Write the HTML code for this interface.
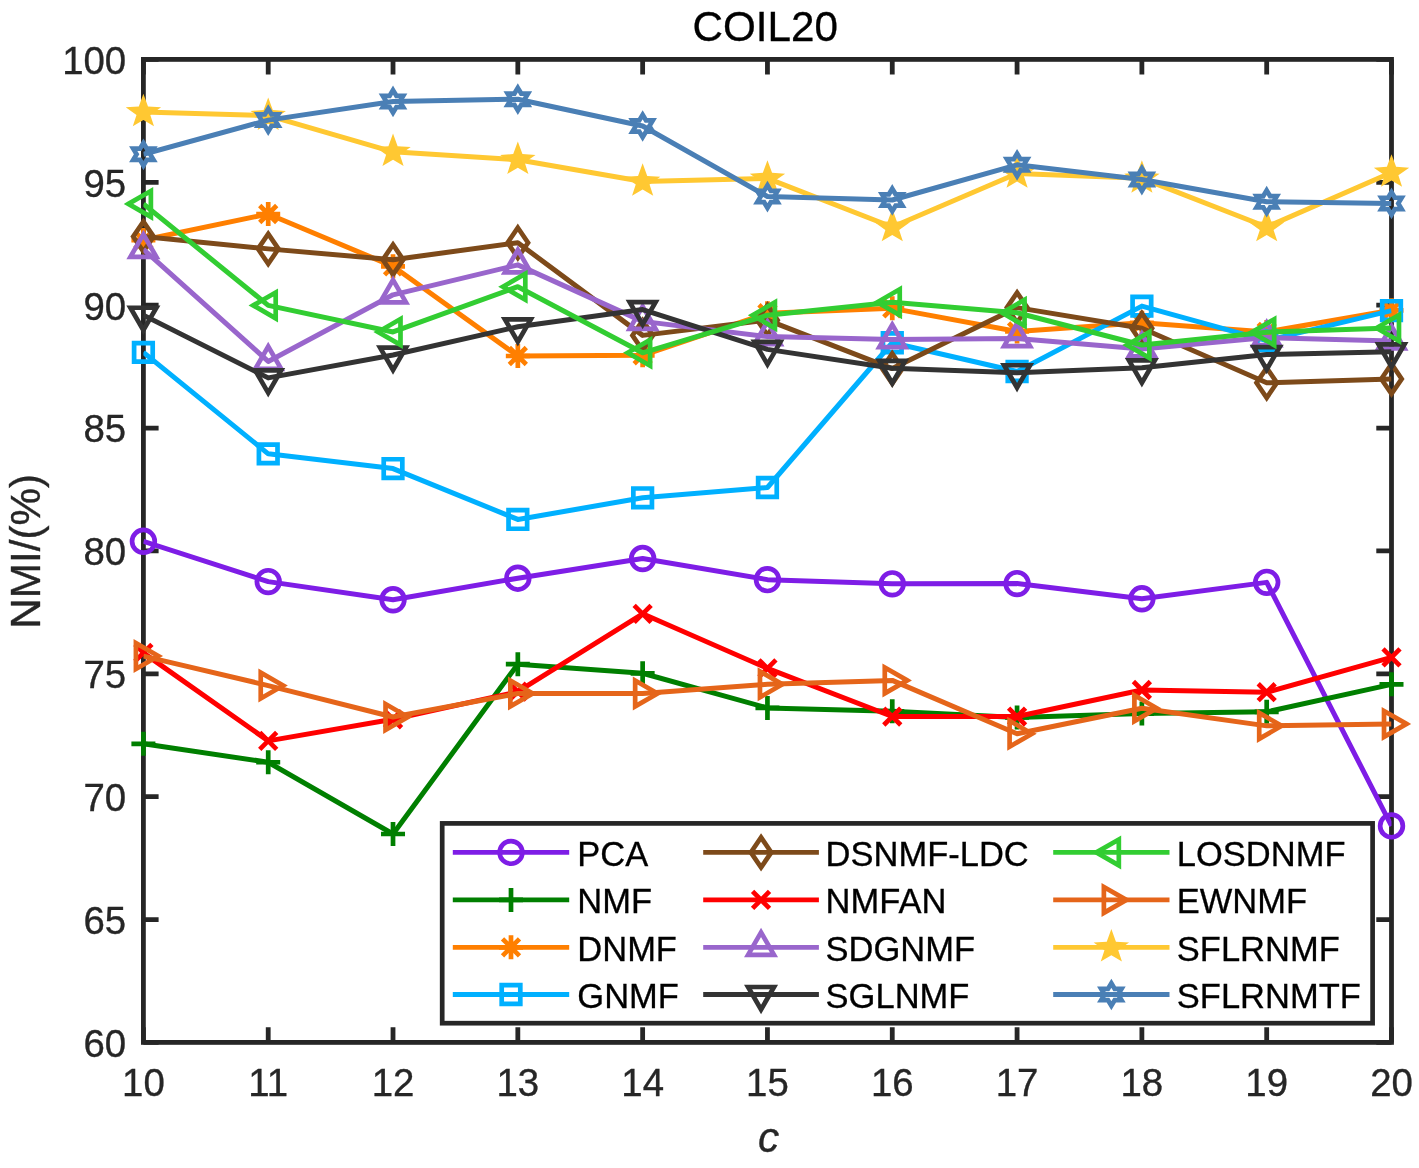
<!DOCTYPE html>
<html><head><meta charset="utf-8"><title>COIL20</title>
<style>html,body{margin:0;padding:0;background:#fff}body{width:1419px;height:1168px;overflow:hidden}</style></head>
<body>
<svg width="1419" height="1168" viewBox="0 0 1419 1168" style="display:block" font-family='"Liberation Sans", Arial, Helvetica, sans-serif'>
<rect x="0" y="0" width="1419" height="1168" fill="#fff"/>
<defs><clipPath id="ax"><rect x="143.4" y="59.4" width="1248.1" height="983"/></clipPath></defs>
<path d="M143.4 1042.4V1027.2M143.4 59.4V74.6M268.21 1042.4V1027.2M268.21 59.4V74.6M393.02 1042.4V1027.2M393.02 59.4V74.6M517.83 1042.4V1027.2M517.83 59.4V74.6M642.64 1042.4V1027.2M642.64 59.4V74.6M767.45 1042.4V1027.2M767.45 59.4V74.6M892.26 1042.4V1027.2M892.26 59.4V74.6M1017.07 1042.4V1027.2M1017.07 59.4V74.6M1141.88 1042.4V1027.2M1141.88 59.4V74.6M1266.69 1042.4V1027.2M1266.69 59.4V74.6M1391.5 1042.4V1027.2M1391.5 59.4V74.6M143.4 1042.4H158.6M1391.5 1042.4H1376.3M143.4 919.53H158.6M1391.5 919.53H1376.3M143.4 796.65H158.6M1391.5 796.65H1376.3M143.4 673.78H158.6M1391.5 673.78H1376.3M143.4 550.9H158.6M1391.5 550.9H1376.3M143.4 428.03H158.6M1391.5 428.03H1376.3M143.4 305.15H158.6M1391.5 305.15H1376.3M143.4 182.28H158.6M1391.5 182.28H1376.3M143.4 59.4H158.6M1391.5 59.4H1376.3" stroke="#262626" stroke-width="4.8" fill="none"/>
<rect x="143.4" y="59.4" width="1248.1" height="983" fill="none" stroke="#262626" stroke-width="4.8"/>
<text x="143.4" y="1096" font-size="38.4" fill="#262626" stroke="#262626" stroke-width="0.35" text-anchor="middle">10</text>
<text x="268.21" y="1096" font-size="38.4" fill="#262626" stroke="#262626" stroke-width="0.35" text-anchor="middle">11</text>
<text x="393.02" y="1096" font-size="38.4" fill="#262626" stroke="#262626" stroke-width="0.35" text-anchor="middle">12</text>
<text x="517.83" y="1096" font-size="38.4" fill="#262626" stroke="#262626" stroke-width="0.35" text-anchor="middle">13</text>
<text x="642.64" y="1096" font-size="38.4" fill="#262626" stroke="#262626" stroke-width="0.35" text-anchor="middle">14</text>
<text x="767.45" y="1096" font-size="38.4" fill="#262626" stroke="#262626" stroke-width="0.35" text-anchor="middle">15</text>
<text x="892.26" y="1096" font-size="38.4" fill="#262626" stroke="#262626" stroke-width="0.35" text-anchor="middle">16</text>
<text x="1017.07" y="1096" font-size="38.4" fill="#262626" stroke="#262626" stroke-width="0.35" text-anchor="middle">17</text>
<text x="1141.88" y="1096" font-size="38.4" fill="#262626" stroke="#262626" stroke-width="0.35" text-anchor="middle">18</text>
<text x="1266.69" y="1096" font-size="38.4" fill="#262626" stroke="#262626" stroke-width="0.35" text-anchor="middle">19</text>
<text x="1391.5" y="1096" font-size="38.4" fill="#262626" stroke="#262626" stroke-width="0.35" text-anchor="middle">20</text>
<text x="126.2" y="1056.8" font-size="38.4" fill="#262626" stroke="#262626" stroke-width="0.35" text-anchor="end">60</text>
<text x="126.2" y="933.93" font-size="38.4" fill="#262626" stroke="#262626" stroke-width="0.35" text-anchor="end">65</text>
<text x="126.2" y="811.05" font-size="38.4" fill="#262626" stroke="#262626" stroke-width="0.35" text-anchor="end">70</text>
<text x="126.2" y="688.18" font-size="38.4" fill="#262626" stroke="#262626" stroke-width="0.35" text-anchor="end">75</text>
<text x="126.2" y="565.3" font-size="38.4" fill="#262626" stroke="#262626" stroke-width="0.35" text-anchor="end">80</text>
<text x="126.2" y="442.43" font-size="38.4" fill="#262626" stroke="#262626" stroke-width="0.35" text-anchor="end">85</text>
<text x="126.2" y="319.55" font-size="38.4" fill="#262626" stroke="#262626" stroke-width="0.35" text-anchor="end">90</text>
<text x="126.2" y="196.68" font-size="38.4" fill="#262626" stroke="#262626" stroke-width="0.35" text-anchor="end">95</text>
<text x="126.2" y="73.8" font-size="38.4" fill="#262626" stroke="#262626" stroke-width="0.35" text-anchor="end">100</text>
<text x="765.2" y="41.1" font-size="42.2" fill="#000" stroke="#000" stroke-width="0.35" text-anchor="middle">COIL20</text>
<text x="768.5" y="1151.7" font-size="42.2" fill="#262626" stroke="#262626" stroke-width="0.35" text-anchor="middle" font-style="italic">c</text>
<text transform="translate(40.2 551.3) rotate(-90)" font-size="42.2" fill="#262626" stroke="#262626" stroke-width="0.35" text-anchor="middle">NMI/(%)</text>
<polyline points="143.4,541.32 268.21,581.62 393.02,599.8 517.83,578.18 642.64,558.52 767.45,579.65 892.26,583.83 1017.07,583.58 1141.88,598.82 1266.69,582.36 1391.5,825.89" fill="none" stroke="#7E1DE6" stroke-width="5.0" stroke-linejoin="round" clip-path="url(#ax)"/>
<circle cx="143.4" cy="541.32" r="11.35" stroke="#7E1DE6" stroke-width="4.7" fill="none" stroke-linejoin="miter" stroke-miterlimit="10"/>
<circle cx="268.21" cy="581.62" r="11.35" stroke="#7E1DE6" stroke-width="4.7" fill="none" stroke-linejoin="miter" stroke-miterlimit="10"/>
<circle cx="393.02" cy="599.8" r="11.35" stroke="#7E1DE6" stroke-width="4.7" fill="none" stroke-linejoin="miter" stroke-miterlimit="10"/>
<circle cx="517.83" cy="578.18" r="11.35" stroke="#7E1DE6" stroke-width="4.7" fill="none" stroke-linejoin="miter" stroke-miterlimit="10"/>
<circle cx="642.64" cy="558.52" r="11.35" stroke="#7E1DE6" stroke-width="4.7" fill="none" stroke-linejoin="miter" stroke-miterlimit="10"/>
<circle cx="767.45" cy="579.65" r="11.35" stroke="#7E1DE6" stroke-width="4.7" fill="none" stroke-linejoin="miter" stroke-miterlimit="10"/>
<circle cx="892.26" cy="583.83" r="11.35" stroke="#7E1DE6" stroke-width="4.7" fill="none" stroke-linejoin="miter" stroke-miterlimit="10"/>
<circle cx="1017.07" cy="583.58" r="11.35" stroke="#7E1DE6" stroke-width="4.7" fill="none" stroke-linejoin="miter" stroke-miterlimit="10"/>
<circle cx="1141.88" cy="598.82" r="11.35" stroke="#7E1DE6" stroke-width="4.7" fill="none" stroke-linejoin="miter" stroke-miterlimit="10"/>
<circle cx="1266.69" cy="582.36" r="11.35" stroke="#7E1DE6" stroke-width="4.7" fill="none" stroke-linejoin="miter" stroke-miterlimit="10"/>
<circle cx="1391.5" cy="825.89" r="11.35" stroke="#7E1DE6" stroke-width="4.7" fill="none" stroke-linejoin="miter" stroke-miterlimit="10"/>
<polyline points="143.4,743.81 268.21,762.25 393.02,834 517.83,664.19 642.64,673.28 767.45,707.93 892.26,711.37 1017.07,717.52 1141.88,713.59 1266.69,711.87 1391.5,684.34" fill="none" stroke="#007F00" stroke-width="5.0" stroke-linejoin="round" clip-path="url(#ax)"/>
<path d="M131.4 743.81L155.4 743.81M143.4 731.81L143.4 755.81" stroke="#007F00" stroke-width="4.7" fill="none" stroke-linejoin="miter" stroke-miterlimit="10"/>
<path d="M256.21 762.25L280.21 762.25M268.21 750.25L268.21 774.25" stroke="#007F00" stroke-width="4.7" fill="none" stroke-linejoin="miter" stroke-miterlimit="10"/>
<path d="M381.02 834L405.02 834M393.02 822L393.02 846" stroke="#007F00" stroke-width="4.7" fill="none" stroke-linejoin="miter" stroke-miterlimit="10"/>
<path d="M505.83 664.19L529.83 664.19M517.83 652.19L517.83 676.19" stroke="#007F00" stroke-width="4.7" fill="none" stroke-linejoin="miter" stroke-miterlimit="10"/>
<path d="M630.64 673.28L654.64 673.28M642.64 661.28L642.64 685.28" stroke="#007F00" stroke-width="4.7" fill="none" stroke-linejoin="miter" stroke-miterlimit="10"/>
<path d="M755.45 707.93L779.45 707.93M767.45 695.93L767.45 719.93" stroke="#007F00" stroke-width="4.7" fill="none" stroke-linejoin="miter" stroke-miterlimit="10"/>
<path d="M880.26 711.37L904.26 711.37M892.26 699.37L892.26 723.37" stroke="#007F00" stroke-width="4.7" fill="none" stroke-linejoin="miter" stroke-miterlimit="10"/>
<path d="M1005.07 717.52L1029.07 717.52M1017.07 705.52L1017.07 729.52" stroke="#007F00" stroke-width="4.7" fill="none" stroke-linejoin="miter" stroke-miterlimit="10"/>
<path d="M1129.88 713.59L1153.88 713.59M1141.88 701.59L1141.88 725.59" stroke="#007F00" stroke-width="4.7" fill="none" stroke-linejoin="miter" stroke-miterlimit="10"/>
<path d="M1254.69 711.87L1278.69 711.87M1266.69 699.87L1266.69 723.87" stroke="#007F00" stroke-width="4.7" fill="none" stroke-linejoin="miter" stroke-miterlimit="10"/>
<path d="M1379.5 684.34L1403.5 684.34M1391.5 672.34L1391.5 696.34" stroke="#007F00" stroke-width="4.7" fill="none" stroke-linejoin="miter" stroke-miterlimit="10"/>
<polyline points="143.4,240.03 268.21,213.98 393.02,266.32 517.83,356.02 642.64,355.28 767.45,313.26 892.26,308.34 1017.07,331.45 1141.88,322.84 1266.69,331.94 1391.5,310.31" fill="none" stroke="#FF7F00" stroke-width="5.0" stroke-linejoin="round" clip-path="url(#ax)"/>
<path d="M131.4 240.03L155.4 240.03M143.4 228.03L143.4 252.03M134.91 231.54L151.89 248.52M134.91 248.52L151.89 231.54" stroke="#FF7F00" stroke-width="4.7" fill="none" stroke-linejoin="miter" stroke-miterlimit="10"/>
<path d="M256.21 213.98L280.21 213.98M268.21 201.98L268.21 225.98M259.72 205.49L276.7 222.47M259.72 222.47L276.7 205.49" stroke="#FF7F00" stroke-width="4.7" fill="none" stroke-linejoin="miter" stroke-miterlimit="10"/>
<path d="M381.02 266.32L405.02 266.32M393.02 254.32L393.02 278.32M384.53 257.83L401.51 274.81M384.53 274.81L401.51 257.83" stroke="#FF7F00" stroke-width="4.7" fill="none" stroke-linejoin="miter" stroke-miterlimit="10"/>
<path d="M505.83 356.02L529.83 356.02M517.83 344.02L517.83 368.02M509.34 347.53L526.32 364.51M509.34 364.51L526.32 347.53" stroke="#FF7F00" stroke-width="4.7" fill="none" stroke-linejoin="miter" stroke-miterlimit="10"/>
<path d="M630.64 355.28L654.64 355.28M642.64 343.28L642.64 367.28M634.15 346.79L651.13 363.77M634.15 363.77L651.13 346.79" stroke="#FF7F00" stroke-width="4.7" fill="none" stroke-linejoin="miter" stroke-miterlimit="10"/>
<path d="M755.45 313.26L779.45 313.26M767.45 301.26L767.45 325.26M758.96 304.77L775.94 321.75M758.96 321.75L775.94 304.77" stroke="#FF7F00" stroke-width="4.7" fill="none" stroke-linejoin="miter" stroke-miterlimit="10"/>
<path d="M880.26 308.34L904.26 308.34M892.26 296.34L892.26 320.34M883.77 299.85L900.75 316.83M883.77 316.83L900.75 299.85" stroke="#FF7F00" stroke-width="4.7" fill="none" stroke-linejoin="miter" stroke-miterlimit="10"/>
<path d="M1005.07 331.45L1029.07 331.45M1017.07 319.45L1017.07 343.45M1008.58 322.96L1025.56 339.94M1008.58 339.94L1025.56 322.96" stroke="#FF7F00" stroke-width="4.7" fill="none" stroke-linejoin="miter" stroke-miterlimit="10"/>
<path d="M1129.88 322.84L1153.88 322.84M1141.88 310.84L1141.88 334.84M1133.39 314.35L1150.37 331.33M1133.39 331.33L1150.37 314.35" stroke="#FF7F00" stroke-width="4.7" fill="none" stroke-linejoin="miter" stroke-miterlimit="10"/>
<path d="M1254.69 331.94L1278.69 331.94M1266.69 319.94L1266.69 343.94M1258.2 323.45L1275.18 340.43M1258.2 340.43L1275.18 323.45" stroke="#FF7F00" stroke-width="4.7" fill="none" stroke-linejoin="miter" stroke-miterlimit="10"/>
<path d="M1379.5 310.31L1403.5 310.31M1391.5 298.31L1391.5 322.31M1383.01 301.82L1399.99 318.8M1383.01 318.8L1399.99 301.82" stroke="#FF7F00" stroke-width="4.7" fill="none" stroke-linejoin="miter" stroke-miterlimit="10"/>
<polyline points="143.4,352.33 268.21,453.83 393.02,468.57 517.83,519.44 642.64,497.82 767.45,487.5 892.26,342.75 1017.07,371.5 1141.88,306.13 1266.69,340.54 1391.5,310.56" fill="none" stroke="#00B0FF" stroke-width="5.0" stroke-linejoin="round" clip-path="url(#ax)"/>
<polygon points="134.1,343.03 152.7,343.03 152.7,361.63 134.1,361.63" stroke="#00B0FF" stroke-width="4.7" fill="none" stroke-linejoin="miter" stroke-miterlimit="10"/>
<polygon points="258.91,444.53 277.51,444.53 277.51,463.13 258.91,463.13" stroke="#00B0FF" stroke-width="4.7" fill="none" stroke-linejoin="miter" stroke-miterlimit="10"/>
<polygon points="383.72,459.27 402.32,459.27 402.32,477.87 383.72,477.87" stroke="#00B0FF" stroke-width="4.7" fill="none" stroke-linejoin="miter" stroke-miterlimit="10"/>
<polygon points="508.53,510.14 527.13,510.14 527.13,528.74 508.53,528.74" stroke="#00B0FF" stroke-width="4.7" fill="none" stroke-linejoin="miter" stroke-miterlimit="10"/>
<polygon points="633.34,488.52 651.94,488.52 651.94,507.12 633.34,507.12" stroke="#00B0FF" stroke-width="4.7" fill="none" stroke-linejoin="miter" stroke-miterlimit="10"/>
<polygon points="758.15,478.2 776.75,478.2 776.75,496.8 758.15,496.8" stroke="#00B0FF" stroke-width="4.7" fill="none" stroke-linejoin="miter" stroke-miterlimit="10"/>
<polygon points="882.96,333.45 901.56,333.45 901.56,352.05 882.96,352.05" stroke="#00B0FF" stroke-width="4.7" fill="none" stroke-linejoin="miter" stroke-miterlimit="10"/>
<polygon points="1007.77,362.2 1026.37,362.2 1026.37,380.8 1007.77,380.8" stroke="#00B0FF" stroke-width="4.7" fill="none" stroke-linejoin="miter" stroke-miterlimit="10"/>
<polygon points="1132.58,296.83 1151.18,296.83 1151.18,315.43 1132.58,315.43" stroke="#00B0FF" stroke-width="4.7" fill="none" stroke-linejoin="miter" stroke-miterlimit="10"/>
<polygon points="1257.39,331.24 1275.99,331.24 1275.99,349.84 1257.39,349.84" stroke="#00B0FF" stroke-width="4.7" fill="none" stroke-linejoin="miter" stroke-miterlimit="10"/>
<polygon points="1382.2,301.26 1400.8,301.26 1400.8,319.86 1382.2,319.86" stroke="#00B0FF" stroke-width="4.7" fill="none" stroke-linejoin="miter" stroke-miterlimit="10"/>
<polyline points="143.4,236.59 268.21,248.87 393.02,259.69 517.83,242.73 642.64,335.38 767.45,320.14 892.26,368.55 1017.07,307.61 1141.88,328.25 1266.69,382.81 1391.5,378.88" fill="none" stroke="#7D4A1A" stroke-width="5.0" stroke-linejoin="round" clip-path="url(#ax)"/>
<polygon points="143.4,221.59 153.6,236.59 143.4,251.59 133.2,236.59" stroke="#7D4A1A" stroke-width="4.7" fill="none" stroke-linejoin="miter" stroke-miterlimit="10"/>
<polygon points="268.21,233.87 278.41,248.87 268.21,263.87 258.01,248.87" stroke="#7D4A1A" stroke-width="4.7" fill="none" stroke-linejoin="miter" stroke-miterlimit="10"/>
<polygon points="393.02,244.69 403.22,259.69 393.02,274.69 382.82,259.69" stroke="#7D4A1A" stroke-width="4.7" fill="none" stroke-linejoin="miter" stroke-miterlimit="10"/>
<polygon points="517.83,227.73 528.03,242.73 517.83,257.73 507.63,242.73" stroke="#7D4A1A" stroke-width="4.7" fill="none" stroke-linejoin="miter" stroke-miterlimit="10"/>
<polygon points="642.64,320.38 652.84,335.38 642.64,350.38 632.44,335.38" stroke="#7D4A1A" stroke-width="4.7" fill="none" stroke-linejoin="miter" stroke-miterlimit="10"/>
<polygon points="767.45,305.14 777.65,320.14 767.45,335.14 757.25,320.14" stroke="#7D4A1A" stroke-width="4.7" fill="none" stroke-linejoin="miter" stroke-miterlimit="10"/>
<polygon points="892.26,353.55 902.46,368.55 892.26,383.55 882.06,368.55" stroke="#7D4A1A" stroke-width="4.7" fill="none" stroke-linejoin="miter" stroke-miterlimit="10"/>
<polygon points="1017.07,292.61 1027.27,307.61 1017.07,322.61 1006.87,307.61" stroke="#7D4A1A" stroke-width="4.7" fill="none" stroke-linejoin="miter" stroke-miterlimit="10"/>
<polygon points="1141.88,313.25 1152.08,328.25 1141.88,343.25 1131.68,328.25" stroke="#7D4A1A" stroke-width="4.7" fill="none" stroke-linejoin="miter" stroke-miterlimit="10"/>
<polygon points="1266.69,367.81 1276.89,382.81 1266.69,397.81 1256.49,382.81" stroke="#7D4A1A" stroke-width="4.7" fill="none" stroke-linejoin="miter" stroke-miterlimit="10"/>
<polygon points="1391.5,363.88 1401.7,378.88 1391.5,393.88 1381.3,378.88" stroke="#7D4A1A" stroke-width="4.7" fill="none" stroke-linejoin="miter" stroke-miterlimit="10"/>
<polyline points="143.4,652.89 268.21,740.86 393.02,719.24 517.83,691.71 642.64,613.81 767.45,668.37 892.26,716.54 1017.07,716.54 1141.88,689.99 1266.69,692.21 1391.5,657.31" fill="none" stroke="#FF0000" stroke-width="5.0" stroke-linejoin="round" clip-path="url(#ax)"/>
<path d="M134.91 644.4L151.89 661.38M134.91 661.38L151.89 644.4" stroke="#FF0000" stroke-width="4.7" fill="none" stroke-linejoin="miter" stroke-miterlimit="10"/>
<path d="M259.72 732.37L276.7 749.35M259.72 749.35L276.7 732.37" stroke="#FF0000" stroke-width="4.7" fill="none" stroke-linejoin="miter" stroke-miterlimit="10"/>
<path d="M384.53 710.75L401.51 727.73M384.53 727.73L401.51 710.75" stroke="#FF0000" stroke-width="4.7" fill="none" stroke-linejoin="miter" stroke-miterlimit="10"/>
<path d="M509.34 683.22L526.32 700.2M509.34 700.2L526.32 683.22" stroke="#FF0000" stroke-width="4.7" fill="none" stroke-linejoin="miter" stroke-miterlimit="10"/>
<path d="M634.15 605.32L651.13 622.3M634.15 622.3L651.13 605.32" stroke="#FF0000" stroke-width="4.7" fill="none" stroke-linejoin="miter" stroke-miterlimit="10"/>
<path d="M758.96 659.88L775.94 676.86M758.96 676.86L775.94 659.88" stroke="#FF0000" stroke-width="4.7" fill="none" stroke-linejoin="miter" stroke-miterlimit="10"/>
<path d="M883.77 708.05L900.75 725.03M883.77 725.03L900.75 708.05" stroke="#FF0000" stroke-width="4.7" fill="none" stroke-linejoin="miter" stroke-miterlimit="10"/>
<path d="M1008.58 708.05L1025.56 725.03M1008.58 725.03L1025.56 708.05" stroke="#FF0000" stroke-width="4.7" fill="none" stroke-linejoin="miter" stroke-miterlimit="10"/>
<path d="M1133.39 681.5L1150.37 698.48M1133.39 698.48L1150.37 681.5" stroke="#FF0000" stroke-width="4.7" fill="none" stroke-linejoin="miter" stroke-miterlimit="10"/>
<path d="M1258.2 683.72L1275.18 700.7M1258.2 700.7L1275.18 683.72" stroke="#FF0000" stroke-width="4.7" fill="none" stroke-linejoin="miter" stroke-miterlimit="10"/>
<path d="M1383.01 648.82L1399.99 665.8M1383.01 665.8L1399.99 648.82" stroke="#FF0000" stroke-width="4.7" fill="none" stroke-linejoin="miter" stroke-miterlimit="10"/>
<polyline points="143.4,249.36 268.21,361.43 393.02,294.83 517.83,264.85 642.64,321.37 767.45,336.61 892.26,339.56 1017.07,338.57 1141.88,348.89 1266.69,337.59 1391.5,341.03" fill="none" stroke="#9966CC" stroke-width="5.0" stroke-linejoin="round" clip-path="url(#ax)"/>
<polygon points="143.4,234.41 156.35,256.84 130.45,256.84" stroke="#9966CC" stroke-width="4.7" fill="none" stroke-linejoin="miter" stroke-miterlimit="10"/>
<polygon points="268.21,346.47 281.16,368.9 255.26,368.9" stroke="#9966CC" stroke-width="4.7" fill="none" stroke-linejoin="miter" stroke-miterlimit="10"/>
<polygon points="393.02,279.88 405.97,302.31 380.07,302.31" stroke="#9966CC" stroke-width="4.7" fill="none" stroke-linejoin="miter" stroke-miterlimit="10"/>
<polygon points="517.83,249.89 530.78,272.32 504.88,272.32" stroke="#9966CC" stroke-width="4.7" fill="none" stroke-linejoin="miter" stroke-miterlimit="10"/>
<polygon points="642.64,306.42 655.59,328.85 629.69,328.85" stroke="#9966CC" stroke-width="4.7" fill="none" stroke-linejoin="miter" stroke-miterlimit="10"/>
<polygon points="767.45,321.65 780.4,344.08 754.5,344.08" stroke="#9966CC" stroke-width="4.7" fill="none" stroke-linejoin="miter" stroke-miterlimit="10"/>
<polygon points="892.26,324.6 905.21,347.03 879.31,347.03" stroke="#9966CC" stroke-width="4.7" fill="none" stroke-linejoin="miter" stroke-miterlimit="10"/>
<polygon points="1017.07,323.62 1030.02,346.05 1004.12,346.05" stroke="#9966CC" stroke-width="4.7" fill="none" stroke-linejoin="miter" stroke-miterlimit="10"/>
<polygon points="1141.88,333.94 1154.83,356.37 1128.93,356.37" stroke="#9966CC" stroke-width="4.7" fill="none" stroke-linejoin="miter" stroke-miterlimit="10"/>
<polygon points="1266.69,322.64 1279.64,345.07 1253.74,345.07" stroke="#9966CC" stroke-width="4.7" fill="none" stroke-linejoin="miter" stroke-miterlimit="10"/>
<polygon points="1391.5,326.08 1404.45,348.51 1378.55,348.51" stroke="#9966CC" stroke-width="4.7" fill="none" stroke-linejoin="miter" stroke-miterlimit="10"/>
<polyline points="143.4,315.23 268.21,377.89 393.02,355.04 517.83,326.78 642.64,309.57 767.45,349.38 892.26,368.31 1017.07,372.73 1141.88,367.82 1266.69,354.55 1391.5,351.84" fill="none" stroke="#333333" stroke-width="5.0" stroke-linejoin="round" clip-path="url(#ax)"/>
<polygon points="143.4,330.18 156.35,307.75 130.45,307.75" stroke="#333333" stroke-width="4.7" fill="none" stroke-linejoin="miter" stroke-miterlimit="10"/>
<polygon points="268.21,392.85 281.16,370.42 255.26,370.42" stroke="#333333" stroke-width="4.7" fill="none" stroke-linejoin="miter" stroke-miterlimit="10"/>
<polygon points="393.02,369.99 405.97,347.56 380.07,347.56" stroke="#333333" stroke-width="4.7" fill="none" stroke-linejoin="miter" stroke-miterlimit="10"/>
<polygon points="517.83,341.73 530.78,319.3 504.88,319.3" stroke="#333333" stroke-width="4.7" fill="none" stroke-linejoin="miter" stroke-miterlimit="10"/>
<polygon points="642.64,324.53 655.59,302.1 629.69,302.1" stroke="#333333" stroke-width="4.7" fill="none" stroke-linejoin="miter" stroke-miterlimit="10"/>
<polygon points="767.45,364.34 780.4,341.91 754.5,341.91" stroke="#333333" stroke-width="4.7" fill="none" stroke-linejoin="miter" stroke-miterlimit="10"/>
<polygon points="892.26,383.26 905.21,360.83 879.31,360.83" stroke="#333333" stroke-width="4.7" fill="none" stroke-linejoin="miter" stroke-miterlimit="10"/>
<polygon points="1017.07,387.68 1030.02,365.25 1004.12,365.25" stroke="#333333" stroke-width="4.7" fill="none" stroke-linejoin="miter" stroke-miterlimit="10"/>
<polygon points="1141.88,382.77 1154.83,360.34 1128.93,360.34" stroke="#333333" stroke-width="4.7" fill="none" stroke-linejoin="miter" stroke-miterlimit="10"/>
<polygon points="1266.69,369.5 1279.64,347.07 1253.74,347.07" stroke="#333333" stroke-width="4.7" fill="none" stroke-linejoin="miter" stroke-miterlimit="10"/>
<polygon points="1391.5,366.8 1404.45,344.37 1378.55,344.37" stroke="#333333" stroke-width="4.7" fill="none" stroke-linejoin="miter" stroke-miterlimit="10"/>
<polyline points="143.4,203.9 268.21,305.4 393.02,331.94 517.83,286.72 642.64,352.83 767.45,315.23 892.26,302.2 1017.07,312.77 1141.88,344.96 1266.69,332.18 1391.5,328" fill="none" stroke="#32CD32" stroke-width="5.0" stroke-linejoin="round" clip-path="url(#ax)"/>
<polygon points="128.45,203.9 150.88,190.95 150.88,216.85" stroke="#32CD32" stroke-width="4.7" fill="none" stroke-linejoin="miter" stroke-miterlimit="10"/>
<polygon points="253.26,305.4 275.69,292.45 275.69,318.35" stroke="#32CD32" stroke-width="4.7" fill="none" stroke-linejoin="miter" stroke-miterlimit="10"/>
<polygon points="378.07,331.94 400.5,318.99 400.5,344.89" stroke="#32CD32" stroke-width="4.7" fill="none" stroke-linejoin="miter" stroke-miterlimit="10"/>
<polygon points="502.88,286.72 525.31,273.77 525.31,299.67" stroke="#32CD32" stroke-width="4.7" fill="none" stroke-linejoin="miter" stroke-miterlimit="10"/>
<polygon points="627.69,352.83 650.12,339.88 650.12,365.78" stroke="#32CD32" stroke-width="4.7" fill="none" stroke-linejoin="miter" stroke-miterlimit="10"/>
<polygon points="752.5,315.23 774.93,302.28 774.93,328.18" stroke="#32CD32" stroke-width="4.7" fill="none" stroke-linejoin="miter" stroke-miterlimit="10"/>
<polygon points="877.31,302.2 899.74,289.25 899.74,315.15" stroke="#32CD32" stroke-width="4.7" fill="none" stroke-linejoin="miter" stroke-miterlimit="10"/>
<polygon points="1002.12,312.77 1024.55,299.82 1024.55,325.72" stroke="#32CD32" stroke-width="4.7" fill="none" stroke-linejoin="miter" stroke-miterlimit="10"/>
<polygon points="1126.93,344.96 1149.36,332.01 1149.36,357.91" stroke="#32CD32" stroke-width="4.7" fill="none" stroke-linejoin="miter" stroke-miterlimit="10"/>
<polygon points="1251.74,332.18 1274.17,319.23 1274.17,345.13" stroke="#32CD32" stroke-width="4.7" fill="none" stroke-linejoin="miter" stroke-miterlimit="10"/>
<polygon points="1376.55,328 1398.98,315.05 1398.98,340.95" stroke="#32CD32" stroke-width="4.7" fill="none" stroke-linejoin="miter" stroke-miterlimit="10"/>
<polyline points="143.4,656.08 268.21,685.57 393.02,717.03 517.83,693.44 642.64,693.44 767.45,684.34 892.26,680.41 1017.07,733.74 1141.88,708.18 1266.69,725.87 1391.5,723.91" fill="none" stroke="#E5651A" stroke-width="5.0" stroke-linejoin="round" clip-path="url(#ax)"/>
<polygon points="158.35,656.08 135.92,643.13 135.92,669.03" stroke="#E5651A" stroke-width="4.7" fill="none" stroke-linejoin="miter" stroke-miterlimit="10"/>
<polygon points="283.16,685.57 260.73,672.62 260.73,698.52" stroke="#E5651A" stroke-width="4.7" fill="none" stroke-linejoin="miter" stroke-miterlimit="10"/>
<polygon points="407.97,717.03 385.54,704.08 385.54,729.98" stroke="#E5651A" stroke-width="4.7" fill="none" stroke-linejoin="miter" stroke-miterlimit="10"/>
<polygon points="532.78,693.44 510.35,680.49 510.35,706.39" stroke="#E5651A" stroke-width="4.7" fill="none" stroke-linejoin="miter" stroke-miterlimit="10"/>
<polygon points="657.59,693.44 635.16,680.49 635.16,706.39" stroke="#E5651A" stroke-width="4.7" fill="none" stroke-linejoin="miter" stroke-miterlimit="10"/>
<polygon points="782.4,684.34 759.97,671.39 759.97,697.29" stroke="#E5651A" stroke-width="4.7" fill="none" stroke-linejoin="miter" stroke-miterlimit="10"/>
<polygon points="907.21,680.41 884.78,667.46 884.78,693.36" stroke="#E5651A" stroke-width="4.7" fill="none" stroke-linejoin="miter" stroke-miterlimit="10"/>
<polygon points="1032.02,733.74 1009.59,720.79 1009.59,746.69" stroke="#E5651A" stroke-width="4.7" fill="none" stroke-linejoin="miter" stroke-miterlimit="10"/>
<polygon points="1156.83,708.18 1134.4,695.23 1134.4,721.13" stroke="#E5651A" stroke-width="4.7" fill="none" stroke-linejoin="miter" stroke-miterlimit="10"/>
<polygon points="1281.64,725.87 1259.21,712.92 1259.21,738.82" stroke="#E5651A" stroke-width="4.7" fill="none" stroke-linejoin="miter" stroke-miterlimit="10"/>
<polygon points="1406.45,723.91 1384.02,710.96 1384.02,736.86" stroke="#E5651A" stroke-width="4.7" fill="none" stroke-linejoin="miter" stroke-miterlimit="10"/>
<polyline points="143.4,111.99 268.21,115.68 393.02,151.8 517.83,159.67 642.64,181.54 767.45,178.34 892.26,227 1017.07,173.43 1141.88,178.34 1266.69,227 1391.5,172.44" fill="none" stroke="#FFC832" stroke-width="5.0" stroke-linejoin="round" clip-path="url(#ax)"/>
<polygon points="143.4,93.79 148,106.39 161.1,107.29 150.3,114.89 154,126.29 143.4,119.99 132.8,126.29 136.5,114.89 125.7,107.29 138.8,106.39" fill="#FFC832" stroke="none"/>
<polygon points="268.21,97.48 272.81,110.08 285.91,110.98 275.11,118.58 278.81,129.98 268.21,123.68 257.61,129.98 261.31,118.58 250.51,110.98 263.61,110.08" fill="#FFC832" stroke="none"/>
<polygon points="393.02,133.6 397.62,146.2 410.72,147.1 399.92,154.7 403.62,166.1 393.02,159.8 382.42,166.1 386.12,154.7 375.32,147.1 388.42,146.2" fill="#FFC832" stroke="none"/>
<polygon points="517.83,141.47 522.43,154.07 535.53,154.97 524.73,162.57 528.43,173.97 517.83,167.67 507.23,173.97 510.93,162.57 500.13,154.97 513.23,154.07" fill="#FFC832" stroke="none"/>
<polygon points="642.64,163.34 647.24,175.94 660.34,176.84 649.54,184.44 653.24,195.84 642.64,189.54 632.04,195.84 635.74,184.44 624.94,176.84 638.04,175.94" fill="#FFC832" stroke="none"/>
<polygon points="767.45,160.14 772.05,172.74 785.15,173.64 774.35,181.24 778.05,192.64 767.45,186.34 756.85,192.64 760.55,181.24 749.75,173.64 762.85,172.74" fill="#FFC832" stroke="none"/>
<polygon points="892.26,208.8 896.86,221.4 909.96,222.3 899.16,229.9 902.86,241.3 892.26,235 881.66,241.3 885.36,229.9 874.56,222.3 887.66,221.4" fill="#FFC832" stroke="none"/>
<polygon points="1017.07,155.23 1021.67,167.83 1034.77,168.73 1023.97,176.33 1027.67,187.73 1017.07,181.43 1006.47,187.73 1010.17,176.33 999.37,168.73 1012.47,167.83" fill="#FFC832" stroke="none"/>
<polygon points="1141.88,160.14 1146.48,172.74 1159.58,173.64 1148.78,181.24 1152.48,192.64 1141.88,186.34 1131.28,192.64 1134.98,181.24 1124.18,173.64 1137.28,172.74" fill="#FFC832" stroke="none"/>
<polygon points="1266.69,208.8 1271.29,221.4 1284.39,222.3 1273.59,229.9 1277.29,241.3 1266.69,235 1256.09,241.3 1259.79,229.9 1248.99,222.3 1262.09,221.4" fill="#FFC832" stroke="none"/>
<polygon points="1391.5,154.24 1396.1,166.84 1409.2,167.74 1398.4,175.34 1402.1,186.74 1391.5,180.44 1380.9,186.74 1384.6,175.34 1373.8,167.74 1386.9,166.84" fill="#FFC832" stroke="none"/>
<polyline points="143.4,154.26 268.21,120.1 393.02,101.42 517.83,99.21 642.64,126 767.45,196.53 892.26,199.97 1017.07,164.83 1141.88,179.57 1266.69,201.69 1391.5,203.41" fill="none" stroke="#4A7FB5" stroke-width="5.0" stroke-linejoin="round" clip-path="url(#ax)"/>
<polygon points="143.4,142.96 146.79,148.61 153.58,148.61 150.18,154.26 153.58,159.91 146.79,159.91 143.4,165.56 140.01,159.91 133.22,159.91 136.62,154.26 133.22,148.61 140.01,148.61" stroke="#4A7FB5" stroke-width="4.7" fill="none" stroke-linejoin="miter" stroke-miterlimit="10"/>
<polygon points="268.21,108.8 271.6,114.45 278.39,114.45 274.99,120.1 278.39,125.75 271.6,125.75 268.21,131.4 264.82,125.75 258.03,125.75 261.43,120.1 258.03,114.45 264.82,114.45" stroke="#4A7FB5" stroke-width="4.7" fill="none" stroke-linejoin="miter" stroke-miterlimit="10"/>
<polygon points="393.02,90.12 396.41,95.78 403.2,95.77 399.8,101.42 403.2,107.07 396.41,107.07 393.02,112.72 389.63,107.07 382.84,107.07 386.24,101.42 382.84,95.77 389.63,95.78" stroke="#4A7FB5" stroke-width="4.7" fill="none" stroke-linejoin="miter" stroke-miterlimit="10"/>
<polygon points="517.83,87.91 521.22,93.57 528.01,93.56 524.61,99.21 528.01,104.86 521.22,104.86 517.83,110.51 514.44,104.86 507.65,104.86 511.05,99.21 507.65,93.56 514.44,93.57" stroke="#4A7FB5" stroke-width="4.7" fill="none" stroke-linejoin="miter" stroke-miterlimit="10"/>
<polygon points="642.64,114.7 646.03,120.35 652.82,120.35 649.42,126 652.82,131.65 646.03,131.64 642.64,137.3 639.25,131.64 632.46,131.65 635.86,126 632.46,120.35 639.25,120.35" stroke="#4A7FB5" stroke-width="4.7" fill="none" stroke-linejoin="miter" stroke-miterlimit="10"/>
<polygon points="767.45,185.23 770.84,190.88 777.63,190.88 774.23,196.53 777.63,202.18 770.84,202.17 767.45,207.83 764.06,202.17 757.27,202.18 760.67,196.53 757.27,190.88 764.06,190.88" stroke="#4A7FB5" stroke-width="4.7" fill="none" stroke-linejoin="miter" stroke-miterlimit="10"/>
<polygon points="892.26,188.67 895.65,194.32 902.44,194.32 899.04,199.97 902.44,205.62 895.65,205.62 892.26,211.27 888.87,205.62 882.08,205.62 885.48,199.97 882.08,194.32 888.87,194.32" stroke="#4A7FB5" stroke-width="4.7" fill="none" stroke-linejoin="miter" stroke-miterlimit="10"/>
<polygon points="1017.07,153.53 1020.46,159.18 1027.25,159.18 1023.85,164.83 1027.25,170.48 1020.46,170.47 1017.07,176.13 1013.68,170.47 1006.89,170.48 1010.29,164.83 1006.89,159.18 1013.68,159.18" stroke="#4A7FB5" stroke-width="4.7" fill="none" stroke-linejoin="miter" stroke-miterlimit="10"/>
<polygon points="1141.88,168.27 1145.27,173.93 1152.06,173.92 1148.66,179.57 1152.06,185.22 1145.27,185.22 1141.88,190.87 1138.49,185.22 1131.7,185.22 1135.1,179.57 1131.7,173.92 1138.49,173.93" stroke="#4A7FB5" stroke-width="4.7" fill="none" stroke-linejoin="miter" stroke-miterlimit="10"/>
<polygon points="1266.69,190.39 1270.08,196.04 1276.87,196.04 1273.47,201.69 1276.87,207.34 1270.08,207.34 1266.69,212.99 1263.3,207.34 1256.51,207.34 1259.91,201.69 1256.51,196.04 1263.3,196.04" stroke="#4A7FB5" stroke-width="4.7" fill="none" stroke-linejoin="miter" stroke-miterlimit="10"/>
<polygon points="1391.5,192.11 1394.89,197.76 1401.68,197.76 1398.28,203.41 1401.68,209.06 1394.89,209.06 1391.5,214.71 1388.11,209.06 1381.32,209.06 1384.72,203.41 1381.32,197.76 1388.11,197.76" stroke="#4A7FB5" stroke-width="4.7" fill="none" stroke-linejoin="miter" stroke-miterlimit="10"/>
<rect x="442.2" y="823.4" width="930.4" height="199.8" fill="#fff" stroke="#262626" stroke-width="4.7"/>
<path d="M452.8 852.4H569.2" stroke="#7E1DE6" stroke-width="4.8" fill="none"/>
<circle cx="511" cy="852.4" r="11.35" stroke="#7E1DE6" stroke-width="4.7" fill="none" stroke-linejoin="miter" stroke-miterlimit="10"/>
<text x="577.3" y="865.6" font-size="34.5" fill="#000" stroke="#000" stroke-width="0.3">PCA</text>
<path d="M452.8 899.9H569.2" stroke="#007F00" stroke-width="4.8" fill="none"/>
<path d="M499 899.9L523 899.9M511 887.9L511 911.9" stroke="#007F00" stroke-width="4.7" fill="none" stroke-linejoin="miter" stroke-miterlimit="10"/>
<text x="577.3" y="913.1" font-size="34.5" fill="#000" stroke="#000" stroke-width="0.3">NMF</text>
<path d="M452.8 947.3H569.2" stroke="#FF7F00" stroke-width="4.8" fill="none"/>
<path d="M499 947.3L523 947.3M511 935.3L511 959.3M502.51 938.81L519.49 955.79M502.51 955.79L519.49 938.81" stroke="#FF7F00" stroke-width="4.7" fill="none" stroke-linejoin="miter" stroke-miterlimit="10"/>
<text x="577.3" y="960.5" font-size="34.5" fill="#000" stroke="#000" stroke-width="0.3">DNMF</text>
<path d="M452.8 994.5H569.2" stroke="#00B0FF" stroke-width="4.8" fill="none"/>
<polygon points="501.7,985.2 520.3,985.2 520.3,1003.8 501.7,1003.8" stroke="#00B0FF" stroke-width="4.7" fill="none" stroke-linejoin="miter" stroke-miterlimit="10"/>
<text x="577.3" y="1007.7" font-size="34.5" fill="#000" stroke="#000" stroke-width="0.3">GNMF</text>
<path d="M703.2 852.4H818.9" stroke="#7D4A1A" stroke-width="4.8" fill="none"/>
<polygon points="761.05,837.4 771.25,852.4 761.05,867.4 750.85,852.4" stroke="#7D4A1A" stroke-width="4.7" fill="none" stroke-linejoin="miter" stroke-miterlimit="10"/>
<text x="825.6" y="865.6" font-size="34.5" fill="#000" stroke="#000" stroke-width="0.3">DSNMF-LDC</text>
<path d="M703.2 899.9H818.9" stroke="#FF0000" stroke-width="4.8" fill="none"/>
<path d="M752.56 891.41L769.54 908.39M752.56 908.39L769.54 891.41" stroke="#FF0000" stroke-width="4.7" fill="none" stroke-linejoin="miter" stroke-miterlimit="10"/>
<text x="825.6" y="913.1" font-size="34.5" fill="#000" stroke="#000" stroke-width="0.3">NMFAN</text>
<path d="M703.2 947.3H818.9" stroke="#9966CC" stroke-width="4.8" fill="none"/>
<polygon points="761.05,932.35 774,954.78 748.1,954.78" stroke="#9966CC" stroke-width="4.7" fill="none" stroke-linejoin="miter" stroke-miterlimit="10"/>
<text x="825.6" y="960.5" font-size="34.5" fill="#000" stroke="#000" stroke-width="0.3">SDGNMF</text>
<path d="M703.2 994.5H818.9" stroke="#333333" stroke-width="4.8" fill="none"/>
<polygon points="761.05,1009.45 774,987.02 748.1,987.02" stroke="#333333" stroke-width="4.7" fill="none" stroke-linejoin="miter" stroke-miterlimit="10"/>
<text x="825.6" y="1007.7" font-size="34.5" fill="#000" stroke="#000" stroke-width="0.3">SGLNMF</text>
<path d="M1053.2 852.4H1169.5" stroke="#32CD32" stroke-width="4.8" fill="none"/>
<polygon points="1096.4,852.4 1118.83,839.45 1118.83,865.35" stroke="#32CD32" stroke-width="4.7" fill="none" stroke-linejoin="miter" stroke-miterlimit="10"/>
<text x="1176.8" y="865.6" font-size="34.5" fill="#000" stroke="#000" stroke-width="0.3">LOSDNMF</text>
<path d="M1053.2 899.9H1169.5" stroke="#E5651A" stroke-width="4.8" fill="none"/>
<polygon points="1126.3,899.9 1103.87,886.95 1103.87,912.85" stroke="#E5651A" stroke-width="4.7" fill="none" stroke-linejoin="miter" stroke-miterlimit="10"/>
<text x="1176.8" y="913.1" font-size="34.5" fill="#000" stroke="#000" stroke-width="0.3">EWNMF</text>
<path d="M1053.2 947.3H1169.5" stroke="#FFC832" stroke-width="4.8" fill="none"/>
<polygon points="1111.35,929.1 1115.95,941.7 1129.05,942.6 1118.25,950.2 1121.95,961.6 1111.35,955.3 1100.75,961.6 1104.45,950.2 1093.65,942.6 1106.75,941.7" fill="#FFC832" stroke="none"/>
<text x="1176.8" y="960.5" font-size="34.5" fill="#000" stroke="#000" stroke-width="0.3">SFLRNMF</text>
<path d="M1053.2 994.5H1169.5" stroke="#4A7FB5" stroke-width="4.8" fill="none"/>
<polygon points="1111.35,983.2 1114.74,988.85 1121.53,988.85 1118.13,994.5 1121.53,1000.15 1114.74,1000.15 1111.35,1005.8 1107.96,1000.15 1101.17,1000.15 1104.57,994.5 1101.17,988.85 1107.96,988.85" stroke="#4A7FB5" stroke-width="4.7" fill="none" stroke-linejoin="miter" stroke-miterlimit="10"/>
<text x="1176.8" y="1007.7" font-size="34.5" fill="#000" stroke="#000" stroke-width="0.3">SFLRNMTF</text>
</svg>
</body></html>
